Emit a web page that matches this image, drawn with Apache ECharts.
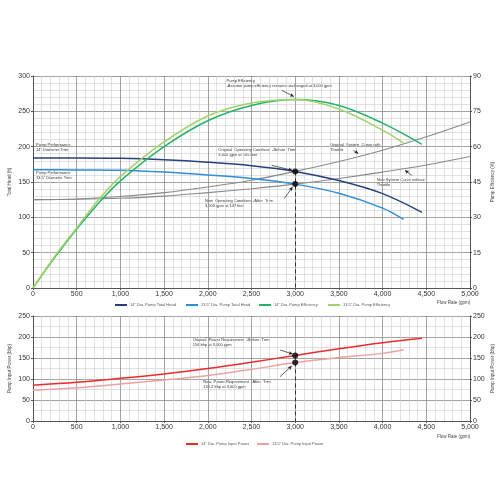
<!DOCTYPE html>
<html>
<head>
<meta charset="utf-8">
<script src="https://cdn.jsdelivr.net/npm/echarts@6/dist/echarts.min.js"></script>
<style>
html,body{margin:0;padding:0;background:#fff;}
#chart{width:500px;height:500px;}
</style>
</head>
<body>
<div id="chart"></div>
<script>
// ---- data ----
const flows14 = [0, 500, 1000, 1500, 2000, 2500, 3000, 3500, 4000, 4450];
const flows135 = [0, 500, 1000, 1500, 2000, 2500, 3000, 3500, 4000, 4240];
const head14 = [184, 184, 183.5, 181.5, 178, 173, 165, 152, 133.5, 107];
const head135 = [167.5, 167, 166.5, 164, 160, 155, 147, 134, 113, 97];

const effFlows14 = [0, 250, 500, 750, 1000, 1500, 2000, 2500, 3000, 3500, 4000, 4450];
const eff14 = [0, 13, 25, 36, 45.5, 60, 71, 77.5, 80, 77.5, 70, 61];
const effFlows135 = [0, 250, 500, 750, 1000, 1500, 2000, 2500, 3000, 3500, 4000, 4240];
const eff135 = [0, 13.5, 25.5, 37.5, 47.3, 62, 73, 78.5, 80, 76, 67, 61.5];

const sysFlows = [0, 500, 1000, 1500, 2000, 2500, 3000, 3500, 4000, 4500, 5000];
const sysOriginal = [125, 126, 129.5, 135, 143, 152.5, 165, 179, 195, 214, 235];
const sysNew = [125, 125.5, 127, 130, 135, 140.5, 147, 155, 164, 174, 186];

const power14 = [85, 92, 101.5, 112, 125, 140, 156, 172, 186.5, 197];
const power135 = [73, 79, 88, 97.5, 108.5, 123, 139.2, 151, 161, 169.5];

const headPoints = [[3000, 165], [3000, 147]];
const powerPoints = [[3000, 156], [3000, 139.2]];

const xTicks = {min: 0, max: 5000, interval: 500};
const headTicks = {min: 0, max: 300, interval: 50};
const effTicks = {min: 0, max: 90, interval: 15};
const powerTicks = {min: 0, max: 250, interval: 50};

const names = {
  head14: '14" Dia. Pump Total Head',
  head135: '13.5" Dia. Pump Total Head',
  eff14: '14" Dia. Pump Efficiency',
  eff135: '13.5" Dia. Pump Efficiency',
  pow14: '14" Dia. Pump Input Power',
  pow135: '13.5" Dia. Pump Input Power',
  sysO: 'Original System Curve',
  sysN: 'New System Curve'
};
const colors = {
  head14: '#27417f', head135: '#2f8fd8', eff14: '#25b36a', eff135: '#a2d36a',
  pow14: '#ee2a2a', pow135: '#eca2a2', sys: '#8a8a8a'
};
// ---------------------------------------

const pair = (xs, ys) => xs.map((x, i) => [x, ys[i]]);
const FONT = 'Liberation Sans, Arial, sans-serif';

function xAxis(gi) {
  return {
    type: 'value', gridIndex: gi, min: xTicks.min, max: xTicks.max, interval: xTicks.interval,
    axisLine: {show: true, onZero: false, lineStyle: {color: '#555', width: 1}},
    axisTick: {show: true, length: 2, lineStyle: {color: '#555'}},
    axisLabel: {fontSize: 7, color: '#333', margin: 3, fontFamily: FONT,
      formatter: v => v.toLocaleString('en-US')},
    splitLine: {show: true, lineStyle: {color: '#8c8c8c', width: 0.8}},
    minorTick: {show: false, splitNumber: 5},
    minorSplitLine: {show: true, lineStyle: {color: '#cdcdcd', width: 0.6}}
  };
}
function yAxis(gi, t, pos, name, minorSplit, showSplit) {
  return {
    type: 'value', gridIndex: gi, min: t.min, max: t.max, interval: t.interval, position: pos,
    name: name, nameLocation: 'middle', nameGap: pos === 'left' ? 21 : 20,
    nameMoveOverlap: false,
    nameTextStyle: {fontSize: 4.5, color: '#444', fontFamily: FONT},
    axisLine: {show: true, onZero: false, lineStyle: {color: '#555', width: 1}},
    axisTick: {show: true, length: 2, lineStyle: {color: '#555'}},
    axisLabel: {fontSize: 7, color: '#333', margin: 3, fontFamily: FONT},
    splitLine: {show: showSplit, lineStyle: {color: '#8c8c8c', width: 0.8}},
    minorTick: {show: false, splitNumber: minorSplit},
    minorSplitLine: {show: showSplit, lineStyle: {color: '#cdcdcd', width: 0.6}}
  };
}
function lineSeries(name, data, color, xi, yi, width) {
  return {
    name: name, type: 'line', data: data, xAxisIndex: xi, yAxisIndex: yi,
    smooth: 0.35, showSymbol: false, symbol: 'none',
    lineStyle: {color: color, width: width || 1.5}, itemStyle: {color: color},
    animation: false, silent: true
  };
}
function arrow(from, to) {
  return [{coord: from, symbol: 'none'}, {coord: to, symbol: 'arrow', symbolSize: [3, 4]}];
}
function legend(name, left, top) {
  return {
    data: [name], left: left, top: top, icon: 'rect', itemWidth: 12, itemHeight: 2,
    itemGap: 0, padding: 0, selectedMode: false,
    textStyle: {fontSize: 4, color: '#555', fontFamily: FONT, padding: [0, 0, 0, -2]}
  };
}
function note(text, x, y) {
  return {type: 'text', x: x, y: y, silent: true,
    style: {text: text, fontSize: 4, fontFamily: FONT, fill: '#333', lineHeight: 5,
      align: 'left', verticalAlign: 'top'}};
}

const option = {
  backgroundColor: '#fff',
  animation: false,
  grid: [
    {left: 33, right: 30, top: 76, height: 212, containLabel: false, outerBoundsMode: 'none'},
    {left: 33, right: 30, top: 316, height: 105, containLabel: false, outerBoundsMode: 'none'}
  ],
  xAxis: [xAxis(0), xAxis(1)],
  yAxis: [
    yAxis(0, headTicks, 'left', 'Total Head (ft)', 5, true),
    yAxis(0, effTicks, 'right', 'Pump Efficiency (%)', 5, false),
    yAxis(1, powerTicks, 'left', 'Pump Input Power (bhp)', 2, true),
    yAxis(1, powerTicks, 'right', 'Pump Input Power (bhp)', 2, false)
  ],
  legend: [
    legend(names.head14, 115, 303),
    legend(names.head135, 186, 303),
    legend(names.eff14, 259, 303),
    legend(names.eff135, 328, 303),
    legend(names.pow14, 186, 442),
    legend(names.pow135, 257, 442)
  ],
  series: [
    lineSeries(names.sysO, pair(sysFlows, sysOriginal), colors.sys, 0, 0, 1.1),
    lineSeries(names.sysN, pair(sysFlows, sysNew), colors.sys, 0, 0, 1.1),
    lineSeries(names.head14, pair(flows14, head14), colors.head14, 0, 0),
    lineSeries(names.head135, pair(flows135, head135), colors.head135, 0, 0),
    lineSeries(names.eff14, pair(effFlows14, eff14), colors.eff14, 0, 1),
    lineSeries(names.eff135, pair(effFlows135, eff135), colors.eff135, 0, 1),
    lineSeries(names.pow14, pair(flows14, power14), colors.pow14, 1, 2),
    lineSeries(names.pow135, pair(flows135, power135), colors.pow135, 1, 2),
    {
      name: 'headPoints', type: 'scatter', xAxisIndex: 0, yAxisIndex: 0, data: headPoints,
      symbolSize: 6, itemStyle: {color: '#000'}, z: 10, silent: true,
      markLine: {
        silent: true, animation: false, symbol: 'none', label: {show: false},
        lineStyle: {color: '#222', width: 0.7, type: 'solid'},
        data: [
          [{coord: [3000, headPoints[0][1]], symbol: 'none', lineStyle: {type: [4, 3], width: 1, color: '#333'}},
           {coord: [3000, 0], symbol: 'none'}],
          arrow([2846, 279.7], [2985, 271]),
          arrow([2731, 173.6], [2967, 166.5]),
          arrow([2875, 126.5], [2970, 143]),
          arrow([3665, 194.8], [3722, 190.2]),
          arrow([4333, 159.5], [4256, 166.5])
        ]
      }
    },
    {
      name: 'powerPoints', type: 'scatter', xAxisIndex: 1, yAxisIndex: 2, data: powerPoints,
      symbolSize: 6, itemStyle: {color: '#000'}, z: 10, silent: true,
      markLine: {
        silent: true, animation: false, symbol: 'none', label: {show: false},
        lineStyle: {color: '#222', width: 0.7, type: 'solid'},
        data: [
          [{coord: [3000, powerPoints[0][1]], symbol: 'none', lineStyle: {type: [4, 3], width: 1, color: '#333'}},
           {coord: [3000, 0], symbol: 'none'}],
          arrow([2826, 169], [2971, 159.5]),
          arrow([2826, 105.5], [2960, 131])
        ]
      }
    }
  ],
  graphic: [
    note('Pump Efficiency\n-Assume pump efficiency remains unchanged at 3,000 gpm', 226.5, 78.5),
    note('Pump Performance\n14" Diameter Trim', 36, 142.5),
    note('Pump Performance\n13.5" Diameter Trim', 36, 170.8),
    note('Original  Operating Condition  -Before  Trim\n3,000 gpm at 165 feet', 218.3, 147.5),
    note('New  Operating Condition  -After  Trim\n3,000 gpm at 147 feet', 205, 198.5),
    note('Original  System  Curve with\nThrottle', 330, 142.5),
    note('New System Curve without\nThrottle', 376.7, 177.5),
    note('Original  Power Requirement  -Before  Trim\n156 bhp at 3,000 gpm', 192.7, 337.5),
    note('New  Power Requirement  -After  Trim\n139.2 bhp at 3,000 gpm', 203.3, 379.2),
    {type: 'text', x: 437, y: 300.5, silent: true,
      style: {text: 'Flow Rate (gpm)', fontSize: 4.5, fontFamily: FONT, fill: '#444', verticalAlign: 'top'}},
    {type: 'text', x: 437, y: 434.5, silent: true,
      style: {text: 'Flow Rate (gpm)', fontSize: 4.5, fontFamily: FONT, fill: '#444', verticalAlign: 'top'}}
  ]
};

const chart = echarts.init(document.getElementById('chart'), null, {renderer: 'canvas'});
chart.setOption(option);
</script>
</body>
</html>
